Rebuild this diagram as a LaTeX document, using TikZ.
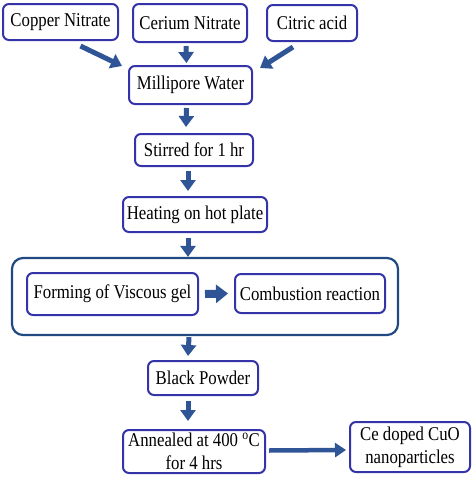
\documentclass[tikz,border=0pt]{standalone}
\usepackage{fontspec}
\setmainfont{Liberation Serif}[FakeStretch=0.86]
\usetikzlibrary{arrows.meta,calc}
\definecolor{boxblue}{RGB}{52,52,168}
\definecolor{outerblue}{RGB}{34,74,130}
\definecolor{flowblue}{RGB}{47,85,151}
\tikzset{
  step box/.style={draw=boxblue, line width=2pt, rounded corners=6pt, fill=white,
    inner sep=2pt, align=center, font=\fontsize{19.5}{23}\selectfont},
  outer box/.style={draw=outerblue, line width=2.2pt, rounded corners=11pt},
  flow/.style={draw=flowblue, line width=5pt, -{Triangle[width=15pt,length=11pt]}},
  flat flow/.style={draw=flowblue, line width=4.5pt, -{Triangle[width=14pt,length=11pt]}},
  block flow/.style={draw=flowblue, line width=8pt, -{Triangle[width=18pt,length=12pt]}}
}
\begin{document}
\begin{tikzpicture}[x=1pt,y=-1pt]
			%%%%% START %%%%%
			\useasboundingbox (0,0) rectangle (474,477);
			
			% raw materials
			\node[step box, minimum width=115pt, minimum height=36pt] (copper) at (60.5,22) {Copper Nitrate};
			\node[step box, minimum width=114pt, minimum height=38pt] (cerium) at (190,23) {Cerium Nitrate};
			\node[step box, minimum width=90pt, minimum height=36pt] (citric) at (312,23) {Citric acid};
			
			\node[step box, minimum width=123pt, minimum height=38pt] (water) at (190.5,85) {Millipore Water};
			\node[step box, minimum width=118pt, minimum height=32pt] (stirred) at (194,150) {Stirred for 1 hr};
			\node[step box, minimum width=144pt, minimum height=35pt] (heating) at (195,214.5) {Heating on hot plate};
			
			% gel and combustion
			\node[outer box, minimum width=386pt, minimum height=77pt] (stage) at (205,296.5) {};
			\node[step box, minimum width=171pt, minimum height=42pt] (gel) at (112.5,294) {Forming of Viscous gel};
			\node[step box, minimum width=150pt, minimum height=39pt] (combust) at (310,293.5) {Combustion reaction};
			
			\node[step box, minimum width=110pt, minimum height=34pt] (powder) at (203,378) {Black Powder};
			\node[step box, minimum width=142pt, minimum height=43pt] (anneal) at (194,451.5) {Annealed at 400 \textsuperscript{o}C\\for 4 hrs};
			\node[step box, minimum width=120pt, minimum height=50pt] (product) at (410,447) {Ce doped CuO\\nanoparticles};
			
			% arrows
			\draw[flow] ($(copper.south)+(20,5)$) -- ($(water.north west)+(-6,1)$);
			\draw[flow] ($(cerium.south)+(-4,3)$) -- ($(water.north)+(-4,-2)$);
			\draw[flow] ($(citric.south)+(-19,5)$) -- ($(water.north east)+(7,3)$);
			\draw[flow] ($(water.south)+(-4,3)$) -- ($(stirred.north)+(-8,-6)$);
			\draw[flow] ($(stirred.south)+(-6,4)$) -- ($(heating.north)+(-7,-5)$);
			\draw[flow] ($(heating.south)+(-7,5)$) -- ($(stage.north)+(-17,0)$);
			\draw[block flow] ($(gel.east)+(6,0)$) -- ($(combust.west)+(-6,0)$);
			\draw[flow] ($(stage.south)+(-16,1)$) -- ($(powder.north)+(-15,-4)$);
			\draw[flow] ($(powder.south)+(-15,5)$) -- ($(anneal.north)+(-6,-8)$);
			\draw[flat flow] ($(anneal.east)+(3,-1)$) -- ($(product.west)+(-3,3)$);
			
			%%%%% END %%%%%
\end{tikzpicture}
\end{document}
